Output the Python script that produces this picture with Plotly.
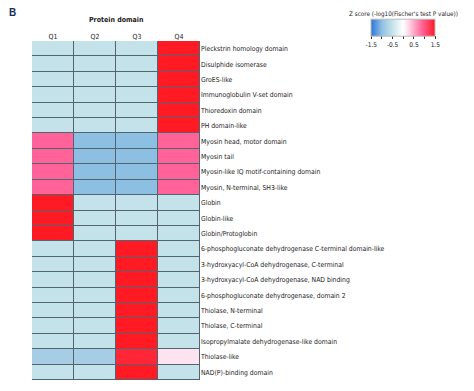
import plotly.graph_objects as go

columns = ["Q1", "Q2", "Q3", "Q4"]
domains = [
    "Pleckstrin homology domain",
    "Disulphide isomerase",
    "GroES-like",
    "Immunoglobulin V-set domain",
    "Thioredoxin domain",
    "PH domain-like",
    "Myosin head, motor domain",
    "Myosin tail",
    "Myosin-like IQ motif-containing domain",
    "Myosin, N-terminal, SH3-like",
    "Globin",
    "Globin-like",
    "Globin/Protoglobin",
    "6-phosphogluconate dehydrogenase C-terminal domain-like",
    "3-hydroxyacyl-CoA dehydrogenase, C-terminal",
    "3-hydroxyacyl-CoA dehydrogenase, NAD binding",
    "6-phosphogluconate dehydrogenase, domain 2",
    "Thiolase, N-terminal",
    "Thiolase, C-terminal",
    "Isopropylmalate dehydrogenase-like domain",
    "Thiolase-like",
    "NAD(P)-binding domain",
]
q1 = [-0.5]*6 + [0.9]*4 + [1.5]*3 + [-0.5]*7 + [-0.8, -0.5]
q2 = [-0.5]*6 + [-1.0]*4 + [-0.5]*3 + [-0.5]*7 + [-0.8, -0.5]
q3 = [-0.5]*6 + [-1.0]*4 + [-0.5]*3 + [1.5]*7 + [1.4, 1.5]
q4 = [1.5]*6 + [0.9]*4 + [-0.5]*3 + [-0.5]*7 + [0.2, -0.5]

cb_tickvals = [-1.5, -1.0, -0.5, 0, 0.5, 1.0, 1.5]
cb_ticktext = ["-1.5", "", "-0.5", "", "0.5", "", "1.5"]

z = [[a, b, c, d] for a, b, c, d in zip(q1, q2, q3, q4)]

colorscale = [
    [0.0, "#2f72dc"],
    [0.167, "#8cbfe2"],
    [0.233, "#a6cde3"],
    [0.333, "#c3e2e9"],
    [0.5, "#ffffff"],
    [0.567, "#fde3ef"],
    [0.8, "#ff6397"],
    [1.0, "#ff1a24"],
]

font_narrow = "DejaVu Sans Condensed, DejaVu Sans, sans-serif"

fig = go.Figure(go.Heatmap(
    z=z, x=columns, y=domains, zmin=-1.5, zmax=1.5,
    colorscale=colorscale, xgap=1, ygap=1,
    colorbar=dict(
        orientation="h", x=2.21, xanchor="center", y=0.972, yanchor="bottom",
        lenmode="pixels", len=64, thickness=17, xpad=0, ypad=0,
        outlinewidth=1, outlinecolor="#bbbbbb",
        tickvals=cb_tickvals, ticktext=cb_ticktext, ticks="outside",
        ticklen=3, tickcolor="#333", tickfont=dict(size=6.5, family=font_narrow, color="#222"),
    ),
))

fig.update_layout(
    width=466, height=383,
    margin=dict(l=24, r=274, t=33, b=11, autoexpand=False),
    plot_bgcolor="#52646f", paper_bgcolor="white",
    font=dict(family=font_narrow, size=6.8, color="#222"),
    xaxis=dict(side="top", showgrid=False, zeroline=False, ticks="", automargin=False,
               tickfont=dict(size=7), title=None),
    yaxis=dict(side="right", autorange="reversed", showgrid=False, zeroline=False,
               automargin=False, ticks="", tickfont=dict(size=6.8)),
    annotations=[
        dict(text="<b>Protein domain</b>", xref="paper", yref="paper", x=0.5, y=1.0,
             yshift=21, yanchor="middle", showarrow=False,
             font=dict(size=7, family=font_narrow, color="#222")),
        dict(text="Z score (-log10(Fischer's test P value))", xref="paper", yref="paper",
             x=2.21, y=1.0, yshift=27, xanchor="center", yanchor="middle", showarrow=False,
             font=dict(size=6.3, family=font_narrow, color="#222")),
        dict(text="<b>B</b>", xref="paper", yref="paper", x=-0.15, y=1.0,
             yshift=29, xanchor="left", yanchor="middle", showarrow=False,
             font=dict(size=10, family="Liberation Sans, Arial, sans-serif", color="#1a2a5a")),
    ],
)

fig.write_html("out.html")
